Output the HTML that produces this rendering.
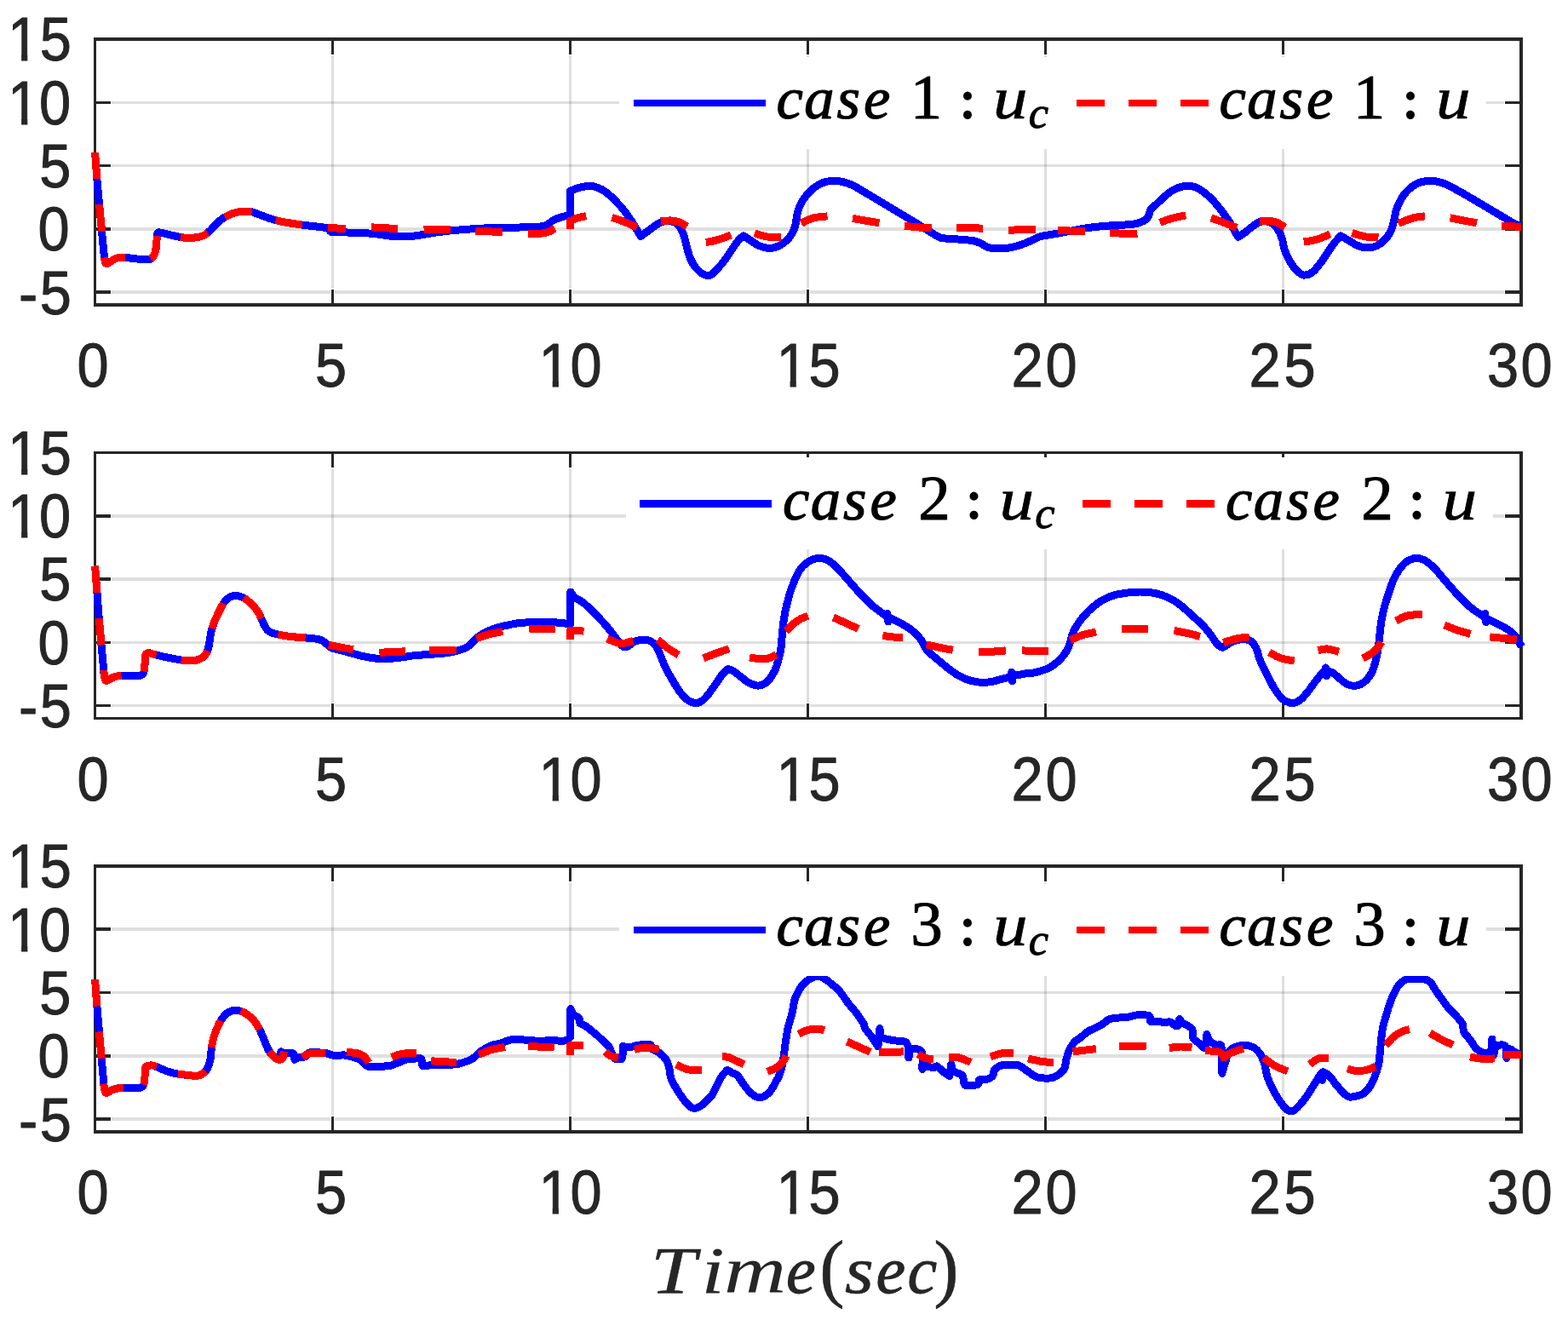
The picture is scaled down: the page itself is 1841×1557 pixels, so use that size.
<!DOCTYPE html>
<html lang="en">
<head>
<meta charset="utf-8">
<title>Control input: cases 1-3</title>
<style>
html,body{margin:0;padding:0;background:#fff;}
body{width:1841px;height:1557px;overflow:hidden;}
svg{display:block;}
</style>
</head>
<body>
<svg width="1841" height="1557" viewBox="0 0 1841 1557" shape-rendering="crispEdges">
<defs>
<clipPath id="one"><path clip-rule="evenodd" d="M-20 -100H120V40H-20Z M-5 -5.9H16.1V4H-5Z M23.3 -5.9H36.5V4H23.3Z"/></clipPath>
</defs>
<rect width="1841" height="1557" fill="#fff"/>
<!-- subplot 1 -->
<path d="M389 65H392V339H389Z M668 65H671V339H668Z M947 65H950V339H947Z M1226 65H1229V339H1226Z M1505 65H1508V339H1505Z" fill="#262626" fill-opacity="0.15"/>
<path d="M131 119H1766V122H131Z M131 193H1766V196H131Z M131 267H1766V271H131Z M131 341H388V345H131Z M393 341H667V345H393Z M672 341H946V345H672Z M951 341H1225V345H951Z M1230 341H1504V345H1230Z M1509 341H1766V345H1509Z" fill="#262626" fill-opacity="0.15"/>
<path d="M389 48H392V64H389Z M389 340H392V356H389Z M668 48H671V64H668Z M668 340H671V356H668Z M947 48H950V64H947Z M947 340H950V356H947Z M1226 48H1229V64H1226Z M1226 340H1229V356H1226Z M1505 48H1508V64H1505Z M1505 340H1508V356H1505Z M113 119H130V122H113Z M1767 119H1784V122H1767Z M113 193H130V196H113Z M1767 193H1784V196H1767Z M113 267H130V271H113Z M1767 267H1784V271H1767Z M113 341H130V345H113Z M1767 341H1784V345H1767Z M110 44H1788V48H110Z M110 356H1788V360H110Z M110 44H113V360H110Z M1784 44H1788V360H1784Z" fill="#262626"/>
<clipPath id="clip1"><rect x="103.5" y="46" width="1690.5" height="312"/></clipPath>
<g clip-path="url(#clip1)">
<path d="M111.6 179 L114.2 214.5 L121.9 296.9 L123.2 306.9 L123.8 308.7 L124.8 309.5 L126.1 309.3 L128 308.3 L134 304.3 L137.4 303.1 L141 302.3 L144.2 302.2 L148 302.5 L168.5 304.9 L173.3 304.9 L176 304.3 L177.5 303.5 L178.8 302.3 L180 300.9 L181.4 298.3 L182 296.7 L182.8 293.6 L183.3 290.6 L184.6 275.3 L185.2 273.5 L186.2 272.8 L189 273.1 L209.1 278 L217.1 279.3 L221.9 279.5 L225.3 279.4 L230.4 278.8 L233.7 278.2 L238.5 276.6 L241.6 275 L243 274 L247.1 270.4 L251.9 264.9 L256.5 260.4 L260.3 257.3 L263 255.5 L269 252.4 L273.9 250.3 L280 248.8 L284.8 248.1 L291.6 248.2 L294.9 248.6 L296.9 249.2 L316.9 256.6 L323.9 258.7 L329.8 260.2 L339 261.8 L354.9 264.1 L379.7 267 L383.8 267.7 L384.9 267.9 L386.4 269 L387.8 271.5 L389.5 272.5 L391.8 272.9 L402.9 272.8 L435.2 274.1 L441.3 274.7 L455.8 276.9 L465.1 277.8 L473.2 277.9 L485.7 277.1 L493.4 276.1 L509.4 273.3 L524.9 271.3 L534.1 270.4 L560.3 268.4 L578.7 267.5 L622.5 266.8 L632.1 266.3 L636.6 265.8 L639.7 265 L642.5 263.8 L645.1 262.1 L648.6 259.2 L651.4 257.6 L657.9 255.3 L665.9 252.9 L669.5 250.9 L669.5 224 L679.9 220.4 L687.5 218.8 L691.9 218.4 L695.4 218.6 L698.6 219.3 L701.9 220.4 L706.2 222.3 L709 224 L713.1 226.9 L719.4 232.5 L728.5 242 L734.7 249.7 L742.9 261.6 L752.2 277.5 L770.5 264.1 L774.5 261.6 L777.4 260.4 L782.2 259.4 L787.1 259.6 L790.3 260.4 L791.8 260.9 L794.4 262.5 L796.7 264.6 L798.6 267.1 L800.1 269.8 L802.2 274.4 L803.7 278.8 L805.4 286.3 L808.8 299 L810.5 303.5 L813.3 309.1 L815.8 312.9 L818 315.6 L822.7 320.1 L825.7 322 L827.5 322.8 L830.8 323.5 L832.6 323.5 L834.1 323.1 L836 321.9 L839.2 319 L842.8 315.2 L847 310.4 L852 303.9 L860 291.9 L867.2 281.8 L869.5 279.4 L873 276.9 L888.5 287.2 L893.4 289.4 L896.8 290.4 L900 291.1 L904.9 291.4 L909.6 290.6 L914.4 288.8 L917.3 287.1 L920.1 285.2 L922.7 283.1 L926.2 279.5 L929.1 275.4 L931.3 271.3 L932.5 268.5 L934 263.9 L936 251.9 L937.1 247.5 L938.6 243 L939.9 240 L942.2 235.8 L946.9 229.2 L950.3 225.4 L954.1 221.9 L957.9 219 L962.2 216.4 L966.4 214.5 L969.4 213.5 L972.6 212.9 L977.3 212.4 L983.6 212.5 L989.9 213.6 L997.2 215.9 L1004.5 219.3 L1072.1 259.7 L1098.7 276.4 L1102.5 278.4 L1105.3 279.4 L1108.3 279.9 L1128.3 281.2 L1138 282.1 L1143.8 282.9 L1148.9 284.6 L1153.1 286.6 L1157 289 L1159.8 290.3 L1162.9 291.1 L1166.3 291.6 L1173.1 292 L1178.3 291.9 L1183.3 291.3 L1187.9 290.4 L1195.4 288.5 L1199.7 287.1 L1205.5 284.9 L1220.2 278.1 L1224.5 277 L1245.9 273.4 L1270.9 268.5 L1278.6 267.3 L1297.1 265.3 L1326.6 263.7 L1333.4 262.7 L1337.9 261.5 L1342.5 259.6 L1344.9 257.9 L1346.2 256.8 L1347.3 255.6 L1348.9 252.9 L1350.5 246.9 L1351.5 245.4 L1369.4 229 L1374.7 224.9 L1380.4 221.6 L1386.3 219.5 L1391 218.5 L1393.9 218.2 L1399 218.5 L1402.2 219.4 L1405.3 220.6 L1411 223.9 L1417.6 229 L1424.9 236 L1432.9 245.7 L1441.4 257.3 L1444.8 262.5 L1449.9 271.9 L1453.9 278.3 L1461.9 272.9 L1469.4 266.8 L1473.3 263.9 L1477.3 261.4 L1479.8 260.4 L1483.1 259.7 L1484.7 259.6 L1487.8 259.9 L1491.1 261 L1492.8 261.8 L1495.8 263.9 L1498.1 266.2 L1500.1 269 L1503.2 274.6 L1505.8 281.9 L1507.3 290.1 L1508.8 294.8 L1512.1 302.5 L1515.3 308.3 L1518.9 313.7 L1522.1 317.4 L1526.8 321.3 L1529.4 322.7 L1530.8 323.1 L1533.8 322.9 L1536.8 322.1 L1538.4 321.3 L1541.8 318.9 L1543.7 317.1 L1547.7 312.3 L1552.7 305.8 L1565 287.4 L1567.9 283.8 L1574 276.9 L1582.9 281.9 L1591.5 287.2 L1596.3 289.3 L1601.3 290.7 L1606.3 291 L1611.4 290.3 L1616.3 288.7 L1620.9 285.9 L1624.5 282.8 L1627.9 279.2 L1630.9 275.1 L1632.5 272.1 L1633.9 268.9 L1635.4 264.3 L1637.3 256.2 L1638.5 249.6 L1639.8 245.1 L1642.9 238 L1647 230.7 L1648.9 228 L1652.1 224.3 L1656.9 220 L1660.9 217.2 L1663.8 215.6 L1666.9 214.4 L1669.7 213.5 L1675.8 212.5 L1680.4 212.4 L1683.4 212.6 L1686.4 213 L1690.9 214 L1693.7 214.8 L1697.8 216.5 L1707.6 221.4 L1722.9 230 L1775.7 261.3 L1780.5 263.7 L1785.8 265.9" fill="none" stroke="#0000ff" stroke-width="9.0" stroke-linejoin="round" stroke-linecap="butt"/>
<path d="M111.6 179 L113.8 210 M116.6 240 L119.6 271.9 M122.5 302.4 L123 305.9 L123.6 308.2 L124.4 309.3 L125.2 309.6 L126.1 309.3 L128.3 308.1 L133.5 304.6 L136.4 303.4 L139.5 302.6 L142 302.2 L147.3 302.5 M176.9 303.9 L178.6 302.6 L180.2 300.6 L181.5 298 L182.4 295.5 L183.3 290 L184.4 277.2 M211.9 278.5 L217.1 279.3 L220.9 279.5 L225.5 279.4 L230.1 278.9 L234.6 277.9 L238.1 276.8 L241.3 275.2 L243.9 273.3 M264.1 254.9 L268.6 252.6 L272.4 250.9 L275.9 249.8 L280 248.8 L284 248.2 L287 248.1 L292.7 248.3 L295.7 248.8 M323.5 258.6 L333.9 260.9 L354.9 264.1 M384.9 267.5 L405.8 268.5 M435.8 266.9 L451.8 267.5 L467 268.9 M497.6 269.9 L513 269.1 L529 269.5 M558.4 271.1 L573.9 271.9 L589.9 272.3 M620.3 274.9 L632.5 274.5 L639.8 273.5 L644.9 271.9 L651.5 268.3 M669.5 268.9 L669.5 259.4 L677.9 255.9 L688.3 253.6 M718.3 255.3 L731.9 259.9 L747.9 266.9 M775.8 259.9 L786.3 258.9 L789.4 259.1 L792.5 259.5 L795.9 260.3 L798.8 261.4 L806.8 265.9 M828.8 284.3 L834.7 283.6 L841.8 281.8 L849.6 279.4 L858.4 275.9 M886 273.9 L894.4 276.6 L900 277.9 L905.8 278.5 L917 278.9 M940.9 262.3 L950 257.7 L955 256 L963 254.4 L971.5 253.9 M1000.9 256.4 L1032.3 261.9 M1061.9 265.3 L1077.9 266.9 L1093.9 267.9 M1122.8 267.5 L1137.8 267.3 L1154.2 268.3 M1184.2 270.3 L1204 269.5 L1215.8 269.3 M1242 270.3 L1258 271.1 L1274 271.1 M1303.3 273.5 L1319.9 274.3 L1335.5 274.1 M1361.9 261.3 L1370.4 258.1 L1375.9 256.4 L1381.8 255 L1392.3 252.9 M1421.9 255.9 L1435.9 260.9 L1451.9 267.5 M1478.8 259.9 L1488.8 259.3 L1492.4 259.6 L1495.5 260.2 L1498.9 261.2 L1501.3 262.2 L1508.8 266.9 M1530.8 283.9 L1540.2 282.6 L1545.8 281.3 L1551.5 279.3 L1561.8 274.9 M1587.3 273.5 L1597 276.5 L1602.9 277.9 L1608.5 278.5 L1618.5 278.9 M1641.9 262.5 L1651.9 258.3 L1659.4 255.8 L1664.5 254.7 L1672.9 253.9 M1702.5 255.9 L1733.9 261.9 M1763.2 265.3 L1785.8 266.3" fill="none" stroke="#ff0000" stroke-width="9.0" stroke-linejoin="round" stroke-linecap="butt"/>
</g>
<rect x="727" y="67" width="1018" height="108" fill="#fff"/>
<line x1="744" y1="121" x2="899" y2="121" stroke="#0000ff" stroke-width="8.3"/>
<line x1="1264" y1="121" x2="1419" y2="121" stroke="#ff0000" stroke-width="8.3" stroke-dasharray="32.5 28.5"/>
<text y="139.4" font-family="'Liberation Serif', serif" font-size="75" fill="#000" stroke="#000" stroke-width="1.0" stroke-linejoin="round"><tspan x="911.57 944.18 982.59 1014.07" font-style="italic" font-size="70.5" stroke-width="1.2">case </tspan><tspan x="1068.7">1 </tspan><tspan x="1127.49" dy="-1.2" font-size="61.5" stroke-width="2.8">: </tspan><tspan x="1165.92" dy="1.2" font-style="italic" font-size="70.5" stroke-width="0.7" textLength="40.54" lengthAdjust="spacingAndGlyphs">u</tspan><tspan x="1207.85" dy="10.8" font-style="italic" font-size="52.5" stroke-width="1.0">c</tspan></text>
<text y="139.4" font-family="'Liberation Serif', serif" font-size="75" fill="#000" stroke="#000" stroke-width="1.0" stroke-linejoin="round"><tspan x="1431.57 1464.18 1502.59 1534.07" font-style="italic" font-size="70.5" stroke-width="1.2">case </tspan><tspan x="1588.7">1 </tspan><tspan x="1647.49" dy="-1.2" font-size="61.5" stroke-width="2.8">: </tspan><tspan x="1685.92" dy="1.2" font-style="italic" font-size="70.5" stroke-width="0.7" textLength="40.54" lengthAdjust="spacingAndGlyphs">u</tspan></text>
<g font-family="'Liberation Sans', sans-serif" font-size="66.8" fill="#262626" stroke="#262626" stroke-width="0.9" stroke-linejoin="round">
<text transform="translate(9 71.4) scale(1 1.071)" x="0 37.77" clip-path="url(#one)">15</text>
<text transform="translate(9 145.69) scale(1 1.071)" x="0 37.03" clip-path="url(#one)">10</text>
<text transform="translate(46.3 219.97) scale(1 1.071)" x="0">5</text>
<text transform="translate(44.45 294.26) scale(1 1.071)" x="0">0</text>
<text transform="translate(22 368.54) scale(1 1.071)" x="0 24.7">-5</text>
<text transform="translate(90.5 454.3) scale(1 1.071)" x="0">0</text>
<text transform="translate(370.08 454.3) scale(1 1.071)" x="0">5</text>
<text transform="translate(632.6 454.3) scale(1 1.071)" x="0 36.85" clip-path="url(#one)">10</text>
<text transform="translate(911.5 454.3) scale(1 1.071)" x="0 37.9" clip-path="url(#one)">15</text>
<text transform="translate(1187.5 454.3) scale(1 1.071)" x="0 40">20</text>
<text transform="translate(1466.5 454.3) scale(1 1.071)" x="0 40.95">25</text>
<text transform="translate(1745.9 454.3) scale(1 1.071)" x="0 39.55">30</text>
</g>
<!-- subplot 2 -->
<path d="M389 550H392V825H389Z M668 550H671V825H668Z M947 550H950V825H947Z M1226 550H1229V825H1226Z M1505 550H1508V825H1505Z" fill="#262626" fill-opacity="0.15"/>
<path d="M131 604H1766V608H131Z M131 678H1766V682H131Z M131 753H1766V756H131Z M131 827H388V830H131Z M393 827H667V830H393Z M672 827H946V830H672Z M951 827H1225V830H951Z M1230 827H1504V830H1230Z M1509 827H1766V830H1509Z" fill="#262626" fill-opacity="0.15"/>
<path d="M389 533H392V549H389Z M389 826H392V842H389Z M668 533H671V549H668Z M668 826H671V842H668Z M947 533H950V549H947Z M947 826H950V842H947Z M1226 533H1229V549H1226Z M1226 826H1229V842H1226Z M1505 533H1508V549H1505Z M1505 826H1508V842H1505Z M113 604H130V608H113Z M1767 604H1784V608H1767Z M113 678H130V682H113Z M1767 678H1784V682H1767Z M113 753H130V756H113Z M1767 753H1784V756H1767Z M113 827H130V830H113Z M1767 827H1784V830H1767Z M110 530H1788V533H110Z M110 842H1788V845H110Z M110 530H113V845H110Z M1784 530H1788V845H1784Z" fill="#262626"/>
<clipPath id="clip2"><rect x="103.5" y="532" width="1690.5" height="312"/></clipPath>
<g clip-path="url(#clip2)">
<path d="M111.6 664.4 L115.9 721.9 L122.2 792.4 L123.1 797 L123.6 798.5 L124.4 799.3 L125.9 799.1 L132.3 795.6 L134 794.9 L138.5 793.7 L143.5 793.3 L152 793.9 L160.6 794 L164.1 793.5 L165.7 792.9 L167 791.9 L168.1 790.6 L168.9 788.9 L169.6 786.9 L169.9 783.9 L170.4 770.9 L170.9 768.7 L172 767.3 L173.6 766.8 L176 766.9 L185.2 769.6 L199 772.5 L210.6 774.7 L219 775.8 L225.3 776 L229.9 775.5 L234.9 773.7 L237.9 771.9 L239.2 770.9 L241.2 768.7 L243.5 764.6 L244.4 761.7 L245.5 756.9 L247.5 743.9 L249.4 736.5 L252.9 727 L260.3 711.9 L261.9 709 L263.8 706.3 L266.9 703 L269.9 701.1 L272.9 700 L274.6 699.6 L277.9 699.6 L280.8 700 L285.4 701.6 L289.9 704.6 L295.7 709.7 L300.1 714.5 L303.9 720 L310.2 734 L311.9 737 L314.1 739.8 L315.3 740.9 L316.9 742 L319.4 743.1 L327.2 745.2 L338.1 747.1 L347.4 748.1 L367.3 749.6 L373.4 750.5 L376.4 751.4 L379.2 752.7 L388.1 760 L391.2 761.5 L399.8 763.5 L423.3 769.9 L431 771.6 L441.3 773.1 L447 773.5 L451.8 773.5 L459.7 773.2 L468 772.5 L482.2 770.2 L488.4 769.5 L520 767.3 L528 766.2 L535.6 764.5 L543.3 762.1 L546 760.9 L549 759.3 L554 755.5 L558.5 750.3 L561.1 748 L566.7 744.3 L571.2 741.9 L578.1 739 L585.5 736.5 L591.7 734.9 L601 733 L608.7 731.7 L615 731.1 L624.7 730.6 L636 730.5 L645.6 730.6 L655.1 731.1 L663.7 732 L669.5 733 L669.9 695 L672.4 698.8 L674.9 701.6 L677.6 703.4 L682.4 706 L686.2 708.8 L692.9 714.9 L700.7 722.8 L708.7 731.3 L714.1 737.6 L721 746.4 L728.8 757 L731.4 759 L733.1 759.8 L734.9 759.9 L736.5 759.3 L744.2 753.8 L745.9 752.9 L748.9 752 L752.2 751.5 L757.1 751.3 L760.4 751.6 L763.5 752.6 L766.5 754.6 L770 758.4 L772.8 762.9 L779.7 780.2 L781.8 784.9 L784.8 790.4 L793 804.4 L797.8 811.9 L802.8 818.1 L804.8 820 L807.5 822.1 L812.3 824.4 L815.4 825.4 L818.2 825.7 L821 824.8 L823.7 823.3 L826.4 821.2 L828.8 818.8 L832 814.8 L839.1 805 L848 791.9 L853.9 785.8 L855 785.5 L856.1 785.8 L858.9 786.9 L862 788.5 L876.6 800.1 L881.3 802.7 L886 804.5 L887.6 804.9 L890.5 805.1 L893.5 804.6 L895 804.1 L896.5 803.4 L899.2 801.7 L902.8 798.4 L906.6 793 L910 786.9 L912.1 781.2 L914.3 773.5 L915.8 767.4 L917 760.9 L919.5 732.4 L921.8 718.4 L924 709 L926.9 698.1 L929.4 690.5 L932.9 681.5 L935.4 675.8 L937.9 671 L940.9 666.8 L943.9 663.7 L948.6 659.9 L952.6 657.6 L957.1 656 L961.9 655.4 L966.7 656 L969.9 657 L973.8 659 L977.9 662 L981 664.8 L985.5 669.4 L1005.4 692 L1017.4 704.7 L1022.8 710 L1028.2 714.4 L1040 723 L1040.9 723.4 L1041.7 722.2 L1041.9 720.6 L1042.7 730 L1043 726.4 L1043.9 725.4 L1045 725.5 L1058.5 732.3 L1065.2 736.2 L1069.1 739 L1072.7 741.9 L1076.1 745.1 L1079.3 748.6 L1081.9 751.9 L1082.9 753.6 L1085.9 759.9 L1088.4 763.3 L1090.5 765.6 L1095 769.7 L1113.5 785.1 L1122.5 791.5 L1126.5 793.8 L1130.8 796 L1135.3 797.8 L1139.8 799.3 L1147.3 800.9 L1154.8 801.4 L1162.3 800.8 L1166.9 799.9 L1175.8 797.3 L1183.9 795.5 L1186.2 794.5 L1187.4 792.8 L1187.8 789.3 L1188.6 799.9 L1189.2 794.9 L1189.8 793.5 L1190.9 792.9 L1195.8 792.5 L1204 790.9 L1212.3 790.2 L1217.3 789.2 L1225.4 786.8 L1229.7 785.2 L1232.6 783.8 L1237.8 780.3 L1242.8 776.1 L1246.2 772.6 L1250.3 767.5 L1252.8 763.5 L1254.2 760.6 L1256.9 753.3 L1259 745 L1261.5 739.3 L1264 735 L1268.1 728.8 L1273 722.8 L1278.4 717.2 L1284.5 711.8 L1289.7 707.7 L1294 705 L1300.7 701.6 L1306.5 699.4 L1312.6 697.8 L1320.7 696.4 L1330.3 695.3 L1338.3 695 L1344.8 695.2 L1351.3 695.8 L1357.6 696.9 L1362.3 698.1 L1366.8 699.7 L1372.7 702.3 L1378.3 705.3 L1382.5 708 L1386.2 710.7 L1390.9 714.7 L1405.1 727.5 L1410.9 732.9 L1415.3 737.7 L1420.2 743.8 L1422.9 747.4 L1427.9 754.9 L1430.4 757.5 L1433.9 759.9 L1435.9 760.2 L1437.9 759.3 L1442 756.1 L1443.9 754.9 L1449.4 752.6 L1453.9 751.3 L1457.3 750.8 L1462.4 750.8 L1465.7 751.4 L1468.5 752.8 L1469.9 753.9 L1472 756.3 L1474.8 760.9 L1476 764 L1477.8 770.9 L1481.1 779.2 L1487.6 792.5 L1495.4 807.1 L1499.8 813.8 L1503.8 818.9 L1505.8 820.9 L1507.5 822.1 L1510.8 823.8 L1515.4 825.4 L1518.2 825.6 L1519.8 825.3 L1522.3 824.4 L1525.1 822.9 L1527.8 820.9 L1529.8 819 L1532.8 815.6 L1536.7 810.8 L1542.9 802.1 L1548.1 795.5 L1551.8 790.9 L1555.4 787.3 L1556.1 785.4 L1556.4 783.9 L1557.4 793.9 L1558 789.7 L1558.8 788.1 L1560.3 788.2 L1563.8 789.9 L1565 789.9 L1576.9 800.2 L1579.6 802.1 L1582.5 803.7 L1585.7 804.8 L1588.9 805.3 L1592.1 805.2 L1595.3 804.5 L1598.3 803.2 L1601.1 801.4 L1603.7 799.1 L1605.9 796.8 L1607.7 794.4 L1610.2 790.4 L1611.5 787.6 L1613.1 783.2 L1615.7 774 L1617.6 764.7 L1618.5 758.7 L1621.2 733.8 L1622.2 727.5 L1623.7 720 L1625.9 711 L1628.1 703.6 L1633.5 687.5 L1636.3 680.3 L1638.4 676.1 L1641.6 670.6 L1644.9 666 L1648.2 662.2 L1651.7 659.4 L1654.5 657.7 L1659.5 655.9 L1662.9 655.4 L1666.2 655.6 L1671.2 657.2 L1675.4 659.5 L1680.4 663.7 L1687.3 670.6 L1702.9 689 L1710.7 697.6 L1719.5 706.8 L1726.7 713.2 L1732.9 718 L1740.8 723 L1742 723.9 L1742.8 724.2 L1743.8 720.6 L1744.7 730.5 L1744.8 728.3 L1745.8 726.6 L1746.8 726.7 L1767.2 737.3 L1771.5 740 L1774.1 742 L1778.9 746.7 L1781.9 750.5 L1786.4 759.3" fill="none" stroke="#0000ff" stroke-width="9.0" stroke-linejoin="round" stroke-linecap="butt"/>
<path d="M111.6 664.4 L113.9 696 M116.3 725.9 L119 757.5 M121.8 787 L122.7 795.7 L123.4 798 L124.4 799.3 L124.8 799.4 L125.7 799.2 L131.4 796 L134 794.9 L138.2 793.8 L142.4 793.3 M169.1 788.6 L169.8 785.1 L170.3 771.7 L170.7 769.5 L171.3 768 L172.7 766.9 L174.6 766.8 L177.2 767.2 L183.3 769.2 M212.6 775 L218.8 775.8 L225.6 776 L228.9 775.7 L231.9 775 L235.8 773.3 L239.2 770.9 L241.8 767.8 L243.7 764.2 M248.9 738 L251 731.8 L253.3 726 L260.7 711.1 L262.2 708.5 M286.1 702 L288.9 703.8 L292.5 706.7 L296.1 710.1 L299.2 713.5 L301.7 716.7 L303.9 720 L306.7 726.2 M326.3 745 L332.8 746.3 L339.9 747.3 L358.5 749 M385.8 757.3 L414.8 762.9 M445.4 766.5 L460 765.3 L476.4 764.9 M503.6 763.9 L520 763.9 L535.6 763.5 M559.5 749.7 L568.5 746.5 L573.9 744.8 L590.3 741.4 M620.9 738 L651.9 738.5 M669.5 751.3 L669.5 740.1 L685.5 741.1 M712.9 749.9 L722.5 754.1 L726 755.1 L728.7 755.6 L731.3 755.6 L733.8 755.2 L743.5 752.5 M772.2 750.9 L779.4 757.4 L783.8 760.9 L788.5 764 L796.8 768.9 M825.8 772.9 L840 767.3 L856 761.9 M880 771.9 L891.5 773.8 L894.6 773.9 L897.9 773.8 L901.3 773.2 L905 772.2 L911.6 768.5 M923 741 L931 733.1 L936 729 L940.6 726.4 L948.9 723 M978.3 725 L991.9 731 L1007.9 738.5 M1036.3 746.5 L1047.9 747.9 L1059.9 748.9 M1087.5 756.9 L1103.8 760.5 L1118.8 763.3 M1148.8 765.9 L1163.8 765.3 L1180.8 763.9 M1199.8 763.9 L1231 764.9 M1256.4 751.9 L1264.5 748.1 L1270 746 L1275.8 744.4 L1287 742 M1317.3 738.5 L1347.9 738.1 M1378.5 740.4 L1393.9 743.4 L1408.9 747.3 M1436.3 754.5 L1445.9 751.5 L1451.9 749.9 L1457.5 749 L1466.9 747.9 M1490.2 765.9 L1498.6 770.6 L1503.8 772.9 L1509.8 774.4 L1519.8 775.9 M1547.4 763.9 L1553.7 762.3 L1557.8 761.9 L1563 762.8 L1572 765.3 M1599.9 772.9 L1608.3 768.6 L1612.6 765.6 L1615.8 762.5 L1619.4 758.4 L1621.9 753.9 M1638.9 729 L1646.9 724.8 L1651.9 723.1 L1660 721.9 L1669.9 721.6 M1695.9 734 L1710.9 740 L1726.5 744.4 M1749.2 747.9 L1780.8 750.9" fill="none" stroke="#ff0000" stroke-width="9.0" stroke-linejoin="round" stroke-linecap="butt"/>
</g>
<rect x="735" y="537" width="1018" height="108" fill="#fff"/>
<line x1="751" y1="591.5" x2="906" y2="591.5" stroke="#0000ff" stroke-width="8.3"/>
<line x1="1271" y1="591.5" x2="1426" y2="591.5" stroke="#ff0000" stroke-width="8.3" stroke-dasharray="32.5 28.5"/>
<text y="609.6" font-family="'Liberation Serif', serif" font-size="75" fill="#000" stroke="#000" stroke-width="1.0" stroke-linejoin="round"><tspan x="919.07 951.68 990.09 1021.57" font-style="italic" font-size="70.5" stroke-width="1.2">case </tspan><tspan x="1078.2">2 </tspan><tspan x="1134.99" dy="-1.2" font-size="61.5" stroke-width="2.8">: </tspan><tspan x="1173.42" dy="1.2" font-style="italic" font-size="70.5" stroke-width="0.7" textLength="40.54" lengthAdjust="spacingAndGlyphs">u</tspan><tspan x="1215.35" dy="10.8" font-style="italic" font-size="52.5" stroke-width="1.0">c</tspan></text>
<text y="609.6" font-family="'Liberation Serif', serif" font-size="75" fill="#000" stroke="#000" stroke-width="1.0" stroke-linejoin="round"><tspan x="1439.07 1471.68 1510.09 1541.57" font-style="italic" font-size="70.5" stroke-width="1.2">case </tspan><tspan x="1598.2">2 </tspan><tspan x="1654.99" dy="-1.2" font-size="61.5" stroke-width="2.8">: </tspan><tspan x="1693.42" dy="1.2" font-style="italic" font-size="70.5" stroke-width="0.7" textLength="40.54" lengthAdjust="spacingAndGlyphs">u</tspan></text>
<g font-family="'Liberation Sans', sans-serif" font-size="66.8" fill="#262626" stroke="#262626" stroke-width="0.9" stroke-linejoin="round">
<text transform="translate(9 556.9) scale(1 1.071)" x="0 37.77" clip-path="url(#one)">15</text>
<text transform="translate(9 631.19) scale(1 1.071)" x="0 37.03" clip-path="url(#one)">10</text>
<text transform="translate(46.3 705.47) scale(1 1.071)" x="0">5</text>
<text transform="translate(44.45 779.76) scale(1 1.071)" x="0">0</text>
<text transform="translate(22 854.04) scale(1 1.071)" x="0 24.7">-5</text>
<text transform="translate(90.5 939.8) scale(1 1.071)" x="0">0</text>
<text transform="translate(370.08 939.8) scale(1 1.071)" x="0">5</text>
<text transform="translate(632.6 939.8) scale(1 1.071)" x="0 36.85" clip-path="url(#one)">10</text>
<text transform="translate(911.5 939.8) scale(1 1.071)" x="0 37.9" clip-path="url(#one)">15</text>
<text transform="translate(1187.5 939.8) scale(1 1.071)" x="0 40">20</text>
<text transform="translate(1466.5 939.8) scale(1 1.071)" x="0 40.95">25</text>
<text transform="translate(1745.9 939.8) scale(1 1.071)" x="0 39.55">30</text>
</g>
<!-- subplot 3 -->
<path d="M389 1036H392V1310H389Z M668 1036H671V1310H668Z M947 1036H950V1310H947Z M1226 1036H1229V1310H1226Z M1505 1036H1508V1310H1505Z" fill="#262626" fill-opacity="0.15"/>
<path d="M131 1089H1766V1093H131Z M131 1164H1766V1167H131Z M131 1238H1766V1242H131Z M131 1312H388V1316H131Z M393 1312H667V1316H393Z M672 1312H946V1316H672Z M951 1312H1225V1316H951Z M1230 1312H1504V1316H1230Z M1509 1312H1766V1316H1509Z" fill="#262626" fill-opacity="0.15"/>
<path d="M389 1019H392V1035H389Z M389 1311H392V1327H389Z M668 1019H671V1035H668Z M668 1311H671V1327H668Z M947 1019H950V1035H947Z M947 1311H950V1327H947Z M1226 1019H1229V1035H1226Z M1226 1311H1229V1327H1226Z M1505 1019H1508V1035H1505Z M1505 1311H1508V1327H1505Z M113 1089H130V1093H113Z M1767 1089H1784V1093H1767Z M113 1164H130V1167H113Z M1767 1164H1784V1167H1767Z M113 1238H130V1242H113Z M1767 1238H1784V1242H1767Z M113 1312H130V1316H113Z M1767 1312H1784V1316H1767Z M110 1015H1788V1019H110Z M110 1327H1788V1331H110Z M110 1015H113V1331H110Z M1784 1015H1788V1331H1784Z" fill="#262626"/>
<clipPath id="clip3"><rect x="103.5" y="1017" width="1690.5" height="312"/></clipPath>
<g clip-path="url(#clip3)">
<path d="M111.6 1150 L114.3 1187 L122 1274.2 L122.8 1279.9 L123.6 1282.4 L124.8 1283.5 L126.4 1282.9 L128.4 1281.5 L132.4 1279.5 L135.4 1278.5 L138.5 1277.9 L143.5 1277.5 L152 1277.9 L160.6 1278 L164.1 1277.5 L165.7 1276.9 L167 1275.9 L168.1 1274.6 L168.9 1272.9 L169.6 1270.9 L169.9 1267.9 L170.2 1257.4 L170.9 1253.5 L172 1251.9 L173.8 1251.3 L177.7 1250.9 L180 1251.1 L184.6 1252.9 L195.9 1257.9 L203.3 1259.9 L209.5 1261.2 L227 1263.2 L229.9 1263.3 L233.2 1263 L234.5 1262.6 L237.2 1261.2 L239.7 1259.2 L241.9 1256.9 L243.6 1254.4 L245.5 1249.9 L247 1243.4 L247.7 1238.3 L248.3 1230 L250.1 1220.9 L251.4 1216.3 L253.1 1211.4 L257.2 1202 L260.8 1196.1 L262.8 1193.3 L264.9 1191 L266.4 1189.7 L269.4 1188 L272.4 1186.9 L273.9 1186.6 L276.9 1186.4 L279.8 1186.6 L282.9 1187.4 L285.6 1188.5 L288.4 1190 L292.2 1192.7 L295.7 1195.7 L297.9 1198 L301.5 1202.9 L304.6 1208.2 L308.9 1218 L312.9 1228 L316 1234.6 L318.1 1237.5 L319.3 1238.8 L321.9 1240.9 L323.7 1242 L326.9 1242.9 L328.3 1242.7 L329.1 1241.5 L329.4 1240.1 L329.9 1234.9 L331.5 1236 L333.9 1236.9 L339.9 1236.9 L342.3 1236.5 L344.3 1236.9 L345.2 1239.7 L345.9 1244.3 L348.1 1242.7 L349.9 1241.9 L356.4 1241.3 L357.9 1240.9 L359.3 1239.9 L361.5 1237.3 L362.9 1236.3 L364.4 1235.9 L375.8 1236 L380.5 1236.2 L383.7 1236.8 L388.4 1238.5 L391.4 1239.3 L395.8 1239.5 L402.1 1238.9 L403.8 1238.9 L408.7 1239.7 L413.8 1240.9 L419.8 1243 L423.8 1244.9 L425.3 1246.1 L428.7 1250 L431.2 1251.8 L433.9 1252.7 L438.4 1253 L450.9 1252.1 L458.6 1251.2 L461.8 1250.3 L465.8 1248.3 L468 1247.9 L472.2 1245.8 L476 1244.3 L482.1 1243.4 L492 1242.7 L493.4 1242.8 L494.6 1243.5 L495.2 1244.8 L495.6 1246.5 L496 1251.5 L506.7 1250.8 L520 1250.3 L529.5 1250.2 L534 1249.9 L538.7 1249.1 L543.1 1247.9 L549 1245.8 L553.3 1243.9 L557.2 1241.4 L561.4 1237.1 L564 1234.9 L569 1231.6 L574.6 1228.5 L579 1226.9 L587.9 1225 L597.9 1221.3 L602.8 1220.5 L607.9 1220.3 L619.9 1221.5 L632.3 1222.3 L637.1 1222.2 L647.9 1221.5 L658.7 1222.3 L661.9 1222.2 L663.4 1221.9 L665.9 1221 L667.4 1220 L669.5 1218 L669.9 1184.4 L672 1189 L673.9 1192 L675.3 1193 L678.3 1194.1 L679.5 1195 L680.2 1196.5 L680.9 1201.6 L686.2 1203.9 L691.4 1207.6 L701.8 1216.3 L714 1227.8 L715.7 1230.3 L717.3 1234.5 L720.1 1240.6 L721.9 1242.9 L723.3 1243.7 L724.9 1244 L727.9 1243.9 L729.7 1243.5 L730.7 1241.9 L731.1 1237.9 L731.5 1228.3 L735.9 1229.8 L737.9 1230 L740.9 1229.4 L747.9 1227.5 L753.1 1226.8 L761.3 1226.3 L762.7 1226.4 L763.8 1227 L764.9 1228.4 L765.8 1231.9 L770.3 1233.9 L773.8 1235.9 L778.7 1240.2 L781.8 1243.9 L783.9 1248 L785.8 1253.9 L787.1 1262.9 L787.8 1265.9 L789 1268.9 L791.3 1273.4 L797.2 1283.4 L802.8 1291.2 L805.9 1295 L808.9 1298.1 L811.4 1300.1 L812.8 1300.9 L814.2 1301.3 L817.3 1301.1 L818.9 1300.6 L822.2 1299 L825 1297 L831.8 1289.9 L834.7 1287.6 L836.7 1284.8 L842 1273.9 L847.2 1264.1 L849.3 1261.2 L854 1256.3 L860 1259.9 L864.5 1261.8 L866 1262.9 L867.6 1265 L872 1271.9 L876.9 1278.4 L880 1281.9 L884 1285.5 L886.6 1287.3 L889.6 1288.4 L891.2 1288.6 L894.4 1288.4 L897.3 1287.3 L900.1 1285.5 L902.7 1283.2 L904.9 1280.7 L906.7 1278 L913.1 1266.4 L914.6 1263.4 L916 1259.9 L917.9 1252.8 L920 1241.9 L922 1226 L924.6 1209.5 L926.1 1203.4 L930 1190 L932.6 1175.4 L933.5 1172.3 L935.3 1168 L937.9 1163 L940.8 1158.6 L943.9 1155 L946.6 1152.5 L949.4 1150.3 L953.8 1147.9 L956.9 1146.6 L959.9 1146 L961.6 1146.1 L964.8 1147.3 L970.5 1150.7 L980.8 1159 L985.9 1164 L988.6 1167.5 L995.9 1178 L1005 1188.8 L1008.9 1194.2 L1013.9 1202 L1014.6 1203.7 L1015.1 1206.3 L1015.9 1208 L1023.9 1218 L1030.9 1229 L1032.9 1207.6 L1034.3 1218 L1040.1 1219.9 L1045 1221 L1051.9 1222 L1060.6 1222.6 L1063.4 1223.7 L1064.4 1224.7 L1065.2 1226 L1066.1 1229.2 L1066.6 1234.2 L1066.9 1241.9 L1068.1 1234.6 L1068.8 1232.9 L1069.9 1231.9 L1072.5 1231.4 L1076 1231.5 L1079.4 1232.6 L1080.8 1233.6 L1081.9 1234.9 L1082.3 1236 L1082.9 1238.8 L1083.1 1244.2 L1082.9 1255.5 L1086.3 1252.5 L1087.9 1251.9 L1089.3 1252 L1094.5 1253.7 L1095.9 1253.9 L1097.9 1252.6 L1099.9 1251.9 L1101.9 1253.3 L1107.8 1258.9 L1114.8 1263.5 L1116.8 1249.5 L1118 1254.5 L1118.8 1256.4 L1119.8 1257.9 L1121 1258.8 L1122.4 1259.4 L1127.3 1261.2 L1128.7 1261.9 L1129.8 1262.9 L1130.6 1264.3 L1131 1265.9 L1131.8 1271.4 L1132.2 1272.9 L1132.8 1273.9 L1134.3 1274.7 L1136.1 1274.9 L1145.8 1274 L1147.5 1273.6 L1148.8 1272.9 L1149.3 1271.4 L1149.1 1269.4 L1149.8 1267.9 L1151 1267.6 L1158.3 1267.2 L1159.8 1266.9 L1163.3 1265.3 L1164.7 1264.2 L1165.8 1262.9 L1166.5 1261.3 L1167 1257.6 L1167.8 1255.9 L1168.8 1254.9 L1171.3 1253.1 L1174.3 1251.5 L1177.4 1250.5 L1180.7 1250.1 L1190.9 1250.1 L1195.8 1250.9 L1197.3 1251.5 L1200 1253.1 L1212 1261.9 L1214.9 1263.6 L1218 1264.9 L1222.8 1265.8 L1229.4 1266.2 L1234 1265.9 L1237.2 1265 L1241.5 1262.7 L1245.3 1259.9 L1247.5 1257.7 L1249.3 1255.3 L1250.5 1252.5 L1252 1243.9 L1254.2 1236.3 L1256 1231.9 L1259.3 1226.3 L1262 1223 L1263.4 1221.7 L1268 1219 L1276 1212 L1279.1 1210.2 L1292.6 1203.7 L1295.4 1202 L1300.4 1197.7 L1303.3 1196.5 L1307.8 1195.6 L1313.9 1195 L1323.9 1194.4 L1333.9 1192 L1339.2 1191.5 L1342.5 1191.5 L1347.5 1192.2 L1348.9 1192.7 L1349.9 1193.6 L1350.3 1194.9 L1350.2 1198.4 L1350.9 1199.6 L1352 1199.8 L1353.4 1199.8 L1358.4 1199 L1359.9 1199 L1366.9 1201 L1368.6 1200.8 L1372.1 1199.9 L1373.9 1200 L1375.2 1200.6 L1379.6 1204.1 L1380.8 1204.8 L1381.9 1205 L1382.7 1204.2 L1383.9 1201.1 L1384.9 1196.4 L1386.6 1199.4 L1387.9 1201 L1389.2 1201.8 L1393.9 1204 L1397.9 1206.5 L1399 1207.6 L1399.9 1209 L1400.3 1210.4 L1400.3 1215.7 L1400.4 1217.5 L1400.9 1219 L1402.8 1221.3 L1407.9 1225 L1412.5 1229.5 L1413.8 1230.3 L1414.9 1230 L1415.6 1227.9 L1416.1 1224.6 L1416.9 1214.3 L1418.9 1220.5 L1419.9 1222 L1420.9 1223 L1423.7 1224.9 L1427.9 1227 L1429.7 1227.1 L1431.5 1226.7 L1433 1226.7 L1433.9 1228 L1434.3 1231.2 L1434.6 1237.4 L1434.9 1260.3 L1437.9 1249.2 L1441.1 1239.4 L1443.1 1235.1 L1445 1232.7 L1446.2 1231.6 L1448.9 1230.1 L1453.4 1228.4 L1456.7 1227.7 L1460.2 1227.3 L1463.5 1227.5 L1467 1228.1 L1470.3 1229.2 L1473.1 1230.8 L1475.6 1232.8 L1477.8 1235.2 L1479.8 1237.9 L1482 1242.1 L1483.8 1246.7 L1485.3 1251.4 L1487 1260.8 L1488.3 1265.3 L1491.8 1273.7 L1496.9 1283.7 L1501.8 1291.9 L1506.9 1298.8 L1509.8 1301.9 L1512.7 1304 L1514.1 1304.6 L1515.4 1304.9 L1516.8 1304.9 L1518.2 1304.5 L1519.5 1303.8 L1523.8 1299.9 L1528.6 1294.6 L1532.8 1289.3 L1535.5 1285.4 L1551.1 1260.2 L1551.8 1259.9 L1552.1 1260.9 L1552.4 1268.3 L1553.4 1258.7 L1556.1 1259.9 L1557.8 1260.9 L1560.2 1263.1 L1563.8 1266.9 L1567.9 1272.7 L1573.8 1279.5 L1576.9 1282.9 L1581 1286.5 L1582.4 1287.4 L1583.9 1287.9 L1585.3 1288.1 L1588.4 1287.9 L1594.6 1286.5 L1597.8 1285.6 L1600.9 1283.9 L1604 1281.2 L1607.1 1277.6 L1608.9 1274.9 L1611.1 1270.9 L1613.8 1265 L1616 1259 L1618.2 1251.3 L1619.4 1245.2 L1622.3 1214.3 L1623.6 1206.5 L1625.2 1200.2 L1630.1 1183.5 L1633.1 1174.6 L1635.6 1168.7 L1638.5 1162.9 L1641 1158.5 L1642.9 1156 L1645.3 1153.6 L1647.9 1151.6 L1650.9 1150.2 L1653.6 1149.5 L1656.6 1149.2 L1666 1149.3 L1672.3 1150 L1674.9 1150.6 L1676.9 1151.4 L1679.7 1153.6 L1681.8 1156.2 L1683.9 1160.3 L1685.6 1163 L1700 1182.9 L1702 1185.3 L1708.9 1192 L1715.3 1199.4 L1716.9 1202 L1717.5 1203.6 L1718.3 1210.3 L1719.6 1213.2 L1726.9 1222 L1731.9 1229.9 L1732.9 1231 L1735.4 1233 L1739.5 1235.4 L1742.6 1236.5 L1750.5 1237.9 L1751.8 1220 L1753.8 1238.9 L1755.8 1228 L1762.3 1226.9 L1764.1 1226.9 L1765.7 1227.2 L1766.8 1228 L1767.5 1229 L1767.9 1230.4 L1768.4 1234 L1768.8 1242.3 L1770.6 1234.1 L1771.2 1232.8 L1771.8 1231.9 L1773 1231.8 L1774.3 1232.4 L1778.8 1235.5 L1785.8 1238.9" fill="none" stroke="#0000ff" stroke-width="9.0" stroke-linejoin="round" stroke-linecap="butt"/>
<path d="M111.6 1150 L113.8 1181.5 M116.4 1211.4 L119.2 1242.9 M121.9 1272.7 L122.4 1277.7 L123 1280.6 L123.9 1282.8 L124.8 1283.5 L125.5 1283.4 L128.4 1281.5 L131.9 1279.7 L134 1278.9 L139.8 1277.7 L145 1277.5 M168.7 1273.6 L169.4 1271.5 L169.8 1269.6 L170.3 1256.3 L170.9 1253.5 L171.6 1252.3 L172.3 1251.7 L173.3 1251.4 L178.2 1250.9 L180.3 1251.2 L184 1252.6 M208.9 1261.1 L227.3 1263.2 L231.7 1263.2 L234.1 1262.8 L236.3 1261.7 L238.9 1260 L241.2 1257.7 M248.3 1230 L250 1221.4 L252 1214.4 L256 1204.4 L259.2 1198.5 M282.4 1187.2 L285.6 1188.5 L288.9 1190.3 L292.6 1193 L295.7 1195.7 L298.2 1198.3 L300.4 1201.2 L304.8 1208.7 M316.5 1234.5 L320.4 1239.7 L322.5 1242 L325.4 1243.8 L328 1244.5 L329.8 1244 L332 1242.5 L333.3 1234.5 M354.9 1241.5 L359.7 1238.4 L361.9 1237.4 L363.9 1236.9 L370.1 1236.5 L381.9 1236.5 M406.8 1235.3 L418 1236.5 L421 1237.3 L424.1 1238.5 L426.7 1240 L428.6 1241.7 L430.3 1244 L432.8 1247.9 M459.8 1241.5 L466.9 1238.7 L472.8 1237.3 L479.5 1236.4 L489 1236.3 M506.4 1245.9 L520 1246.3 L536 1247.9 M562 1238.5 L570.5 1234.9 L575.9 1232.9 L581.8 1231.5 L592.9 1229.3 M620.3 1228.3 L635.9 1229.3 L650.9 1229 M669.5 1238.9 L669.5 1227.5 L684.9 1227.3 M710.9 1234.9 L714.4 1238.3 L716.9 1239.9 L720 1240.9 L725.9 1241.9 M744.9 1232.3 L752.6 1230.5 L757.8 1230 L763.7 1230.5 L773.8 1232.3 M794.2 1249.9 L802.4 1254 L807.8 1255.9 L813.4 1256.5 L823.8 1256.3 M847.6 1240.9 L852.5 1241 L855.9 1241.6 L859.1 1243 L873.6 1249.9 M901 1258.5 L909.6 1254.7 L912.2 1253.1 L915.1 1250.8 L917.7 1248.3 L919.7 1246 L920.9 1243.9 L923 1239.5 M937.5 1214 L946.4 1210.1 L949.9 1209.1 L954.1 1208.4 L958.1 1208 L961.2 1208.1 L963.6 1208.5 L967.9 1210 M994.3 1223 L1007.9 1229 L1021.9 1235.5 M1031.9 1235.9 L1060.9 1234.9 M1077.9 1237.5 L1082.8 1240.8 L1085.9 1242.3 L1089.6 1243.1 L1095.9 1243.5 M1113.8 1241.9 L1121.7 1241.4 L1125.5 1241.8 L1132.3 1244.1 L1139.8 1247.5 M1162.8 1240.9 L1170.9 1238.1 L1175.8 1236.9 L1180.9 1236.6 L1189.8 1236.9 M1207 1242.9 L1222 1246.3 L1237 1247.9 M1259.6 1234.9 L1287 1231.5 M1313.9 1228.5 L1345.9 1228 M1372.9 1230.5 L1380.9 1229.4 L1385.9 1229 L1390.9 1229.1 L1399.5 1230 M1414.9 1233.9 L1426.1 1234.1 L1428.6 1234.5 L1430.8 1235.1 L1432.5 1235.9 L1434.3 1237.3 L1435.3 1238.7 L1436.9 1241.9 L1440.5 1238.9 L1443.9 1236.9 L1449.1 1234.9 L1459.9 1231.3 M1483.8 1241.9 L1490.9 1247.6 L1495.8 1250.9 L1501.3 1253.6 L1511.8 1257.9 M1537.8 1249.9 L1544 1245.1 L1547.8 1242.9 L1552.1 1242.2 L1559.8 1242.3 M1581.9 1254.9 L1587.8 1256.6 L1591.3 1257.3 L1594.4 1257.6 L1598 1257.4 L1602 1256.9 L1606 1256 L1609.3 1254.8 L1614.9 1252.3 M1626.9 1227 L1635 1218.6 L1640 1214.7 L1643.6 1212.6 L1647.5 1210.7 L1650.4 1209.7 L1654.9 1208.6 M1678.9 1213 L1692.9 1221 L1705.9 1227 M1725.9 1240.9 L1735.4 1242.7 L1740.8 1243.3 L1745.9 1243.4 L1754.8 1242.9 M1765.2 1238.9 L1785.8 1238.5" fill="none" stroke="#ff0000" stroke-width="9.0" stroke-linejoin="round" stroke-linecap="butt"/>
</g>
<rect x="727" y="1038" width="1018" height="108" fill="#fff"/>
<line x1="744" y1="1092" x2="899" y2="1092" stroke="#0000ff" stroke-width="8.3"/>
<line x1="1264" y1="1092" x2="1419" y2="1092" stroke="#ff0000" stroke-width="8.3" stroke-dasharray="32.5 28.5"/>
<text y="1110.4" font-family="'Liberation Serif', serif" font-size="75" fill="#000" stroke="#000" stroke-width="1.0" stroke-linejoin="round"><tspan x="911.57 944.18 982.59 1014.07" font-style="italic" font-size="70.5" stroke-width="1.2">case </tspan><tspan x="1069.2">3 </tspan><tspan x="1127.49" dy="-1.2" font-size="61.5" stroke-width="2.8">: </tspan><tspan x="1165.92" dy="1.2" font-style="italic" font-size="70.5" stroke-width="0.7" textLength="40.54" lengthAdjust="spacingAndGlyphs">u</tspan><tspan x="1207.85" dy="10.8" font-style="italic" font-size="52.5" stroke-width="1.0">c</tspan></text>
<text y="1110.4" font-family="'Liberation Serif', serif" font-size="75" fill="#000" stroke="#000" stroke-width="1.0" stroke-linejoin="round"><tspan x="1431.57 1464.18 1502.59 1534.07" font-style="italic" font-size="70.5" stroke-width="1.2">case </tspan><tspan x="1589.2">3 </tspan><tspan x="1647.49" dy="-1.2" font-size="61.5" stroke-width="2.8">: </tspan><tspan x="1685.92" dy="1.2" font-style="italic" font-size="70.5" stroke-width="0.7" textLength="40.54" lengthAdjust="spacingAndGlyphs">u</tspan></text>
<g font-family="'Liberation Sans', sans-serif" font-size="66.8" fill="#262626" stroke="#262626" stroke-width="0.9" stroke-linejoin="round">
<text transform="translate(9 1042.4) scale(1 1.071)" x="0 37.77" clip-path="url(#one)">15</text>
<text transform="translate(9 1116.69) scale(1 1.071)" x="0 37.03" clip-path="url(#one)">10</text>
<text transform="translate(46.3 1190.97) scale(1 1.071)" x="0">5</text>
<text transform="translate(44.45 1265.26) scale(1 1.071)" x="0">0</text>
<text transform="translate(22 1339.54) scale(1 1.071)" x="0 24.7">-5</text>
<text transform="translate(90.5 1425.3) scale(1 1.071)" x="0">0</text>
<text transform="translate(370.08 1425.3) scale(1 1.071)" x="0">5</text>
<text transform="translate(632.6 1425.3) scale(1 1.071)" x="0 36.85" clip-path="url(#one)">10</text>
<text transform="translate(911.5 1425.3) scale(1 1.071)" x="0 37.9" clip-path="url(#one)">15</text>
<text transform="translate(1187.5 1425.3) scale(1 1.071)" x="0 40">20</text>
<text transform="translate(1466.5 1425.3) scale(1 1.071)" x="0 40.95">25</text>
<text transform="translate(1745.9 1425.3) scale(1 1.071)" x="0 39.55">30</text>
</g>
<text y="1518.1" font-family="'Liberation Serif', serif" font-style="italic" font-size="78" fill="#262626" stroke="#262626" stroke-width="1.0" stroke-linejoin="round"><tspan x="763.7" textLength="53.6" lengthAdjust="spacingAndGlyphs" stroke-width="0.4">T</tspan><tspan x="823.6" textLength="27.1" lengthAdjust="spacingAndGlyphs" stroke-width="0.2">i</tspan><tspan x="850" textLength="73.2" lengthAdjust="spacingAndGlyphs" stroke-width="0">m</tspan><tspan x="923.1">e</tspan><tspan x="962.3" font-style="normal" font-size="88" stroke-width="0.5">(</tspan><tspan x="992.1" textLength="33.7" lengthAdjust="spacingAndGlyphs" stroke-width="0.7">s</tspan><tspan x="1028.4 1065.5">ec</tspan><tspan x="1096.2" font-style="normal" font-size="88" stroke-width="0.5">)</tspan></text>
</svg>
</body>
</html>
